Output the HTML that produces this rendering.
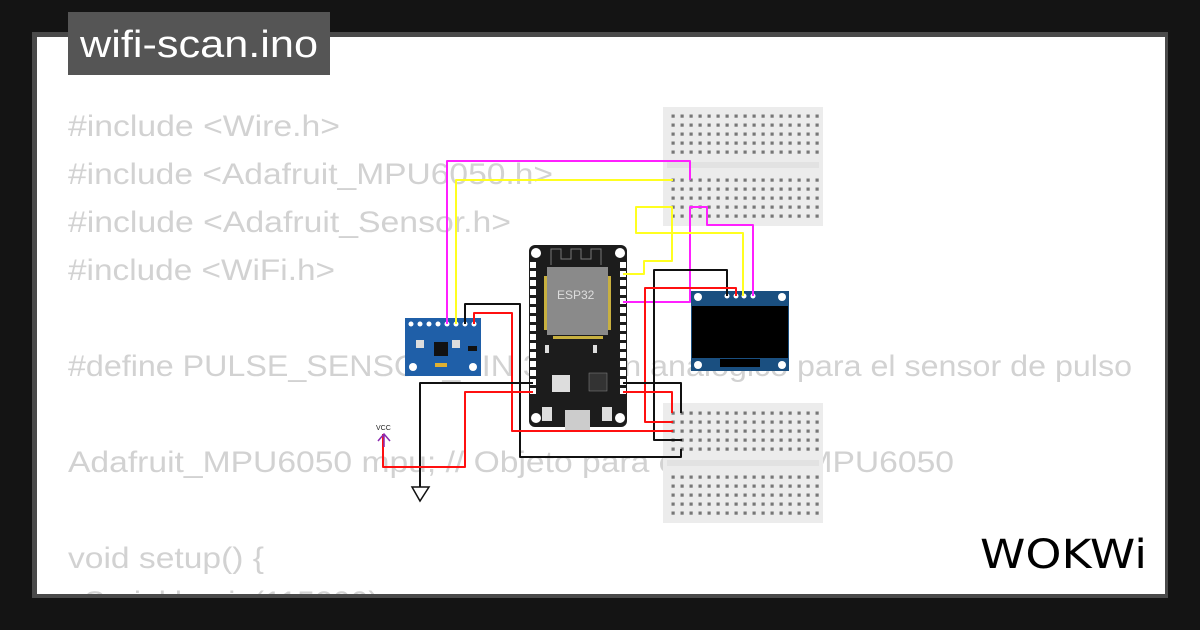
<!DOCTYPE html>
<html><head><meta charset="utf-8"><style>
html,body{margin:0;padding:0;background:#141414;width:1200px;height:630px;overflow:hidden}
svg{display:block}
</style></head><body>
<svg width="1200" height="630" viewBox="0 0 1200 630" xmlns="http://www.w3.org/2000/svg" font-family="Liberation Sans, sans-serif">
<defs>
<pattern id="h1" x="671" y="114" width="9" height="9" patternUnits="userSpaceOnUse"><rect x="0.5" y="0.5" width="3.2" height="3.2" fill="#777"/></pattern>
<pattern id="h2" x="671" y="178" width="9" height="9" patternUnits="userSpaceOnUse"><rect x="0.5" y="0.5" width="3.2" height="3.2" fill="#777"/></pattern>
<pattern id="h3" x="671" y="411" width="9" height="9" patternUnits="userSpaceOnUse"><rect x="0.5" y="0.5" width="3.2" height="3.2" fill="#777"/></pattern>
<pattern id="h4" x="671" y="475" width="9" height="9" patternUnits="userSpaceOnUse"><rect x="0.5" y="0.5" width="3.2" height="3.2" fill="#777"/></pattern>
<clipPath id="pc"><rect x="37" y="37" width="1128" height="557"/></clipPath>
</defs>
<rect x="32" y="32" width="1136" height="566" fill="#4a4a4a"/>
<rect x="37" y="37" width="1128" height="557" fill="#fff"/>
<g clip-path="url(#pc)" fill="#d2d2d2" font-size="30" lengthAdjust="spacingAndGlyphs">
<text x="68" y="136" textLength="272" lengthAdjust="spacingAndGlyphs">#include &lt;Wire.h&gt;</text>
<text x="68" y="184" textLength="485" lengthAdjust="spacingAndGlyphs">#include &lt;Adafruit_MPU6050.h&gt;</text>
<text x="68" y="232" textLength="443" lengthAdjust="spacingAndGlyphs">#include &lt;Adafruit_Sensor.h&gt;</text>
<text x="68" y="280" textLength="267" lengthAdjust="spacingAndGlyphs">#include &lt;WiFi.h&gt;</text>
<text x="68" y="376" textLength="1064" lengthAdjust="spacingAndGlyphs">#define PULSE_SENSOR_PIN 34 // Pin analógico para el sensor de pulso</text>
<text x="68" y="472" textLength="886" lengthAdjust="spacingAndGlyphs">Adafruit_MPU6050 mpu; // Objeto para el sensor MPU6050</text>
<text x="68" y="568" textLength="196" lengthAdjust="spacingAndGlyphs">void setup() {</text>
<text x="84" y="612" textLength="304" lengthAdjust="spacingAndGlyphs">Serial.begin(115200);</text>
</g>
<rect x="68" y="12" width="262" height="63" fill="#555"/>
<text x="80" y="57" fill="#fff" font-size="38" textLength="238" lengthAdjust="spacingAndGlyphs">wifi-scan.ino</text>

<!-- breadboards -->
<g>
<rect x="663" y="107" width="160" height="119" fill="#ececec"/>
<rect x="667" y="162" width="152" height="6" fill="#e2e2e2"/>
<rect x="671" y="114" width="149" height="42" fill="url(#h1)"/>
<rect x="671" y="178" width="149" height="42" fill="url(#h2)"/>
<rect x="663" y="403" width="160" height="120" fill="#ececec"/>
<rect x="667" y="460" width="152" height="6" fill="#e2e2e2"/>
<rect x="671" y="411" width="149" height="42" fill="url(#h3)"/>
<rect x="671" y="475" width="149" height="42" fill="url(#h4)"/>
</g>

<!-- ESP32 -->
<g>
<rect x="529" y="245" width="98" height="182" rx="6" fill="#1c1c1c"/>
<circle cx="536" cy="253" r="5" fill="#fff"/><circle cx="620" cy="253" r="5" fill="#fff"/>
<circle cx="536" cy="418" r="5" fill="#fff"/><circle cx="620" cy="418" r="5" fill="#fff"/>
<path d="M551 265 v-16 h10 v10 h10 v-10 h10 v10 h10 v-10 h10 v16" fill="none" stroke="#777" stroke-width="1"/>
<rect x="547" y="267" width="61" height="68" fill="#8a8a8a"/>
<text x="557" y="299" fill="#ddd" font-size="12">ESP32</text>
<rect x="553" y="336" width="50" height="3" fill="#c8b040"/>
<rect x="544" y="276" width="3" height="54" fill="#c8b040"/><rect x="608" y="276" width="3" height="54" fill="#c8b040"/>
<rect x="552" y="375" width="18" height="17" fill="#ddd"/>
<rect x="589" y="373" width="18" height="18" fill="#333" stroke="#888" stroke-width="0.5"/>
<rect x="545" y="345" width="4" height="8" fill="#ddd"/><rect x="593" y="345" width="4" height="8" fill="#ddd"/>
<rect x="565" y="410" width="25" height="20" fill="#ccc"/>
<rect x="542" y="407" width="10" height="14" fill="#ddd"/><rect x="602" y="407" width="10" height="14" fill="#ddd"/>
<g fill="#fff">
<rect x="530" y="262" width="6" height="6"/><rect x="530" y="271" width="6" height="6"/><rect x="530" y="280" width="6" height="6"/><rect x="530" y="289" width="6" height="6"/><rect x="530" y="298" width="6" height="6"/><rect x="530" y="307" width="6" height="6"/><rect x="530" y="316" width="6" height="6"/><rect x="530" y="325" width="6" height="6"/><rect x="530" y="334" width="6" height="6"/><rect x="530" y="343" width="6" height="6"/><rect x="530" y="352" width="6" height="6"/><rect x="530" y="361" width="6" height="6"/><rect x="530" y="370" width="6" height="6"/><rect x="530" y="379" width="6" height="6"/><rect x="530" y="388" width="6" height="6"/>
<rect x="620" y="262" width="6" height="6"/><rect x="620" y="271" width="6" height="6"/><rect x="620" y="280" width="6" height="6"/><rect x="620" y="289" width="6" height="6"/><rect x="620" y="298" width="6" height="6"/><rect x="620" y="307" width="6" height="6"/><rect x="620" y="316" width="6" height="6"/><rect x="620" y="325" width="6" height="6"/><rect x="620" y="334" width="6" height="6"/><rect x="620" y="343" width="6" height="6"/><rect x="620" y="352" width="6" height="6"/><rect x="620" y="361" width="6" height="6"/><rect x="620" y="370" width="6" height="6"/><rect x="620" y="379" width="6" height="6"/><rect x="620" y="388" width="6" height="6"/>
</g>
</g>

<!-- MPU6050 -->
<g>
<rect x="405" y="318" width="76" height="58" fill="#1f5fa8"/>
<g fill="#fff"><circle cx="411" cy="324" r="2.5"/><circle cx="420" cy="324" r="2.5"/><circle cx="429" cy="324" r="2.5"/><circle cx="438" cy="324" r="2.5"/><circle cx="447" cy="324" r="2.5"/><circle cx="456" cy="324" r="2.5"/><circle cx="465" cy="324" r="2.5"/><circle cx="474" cy="324" r="2.5"/>
<circle cx="413" cy="367" r="4"/><circle cx="473" cy="367" r="4"/></g>
<rect x="434" y="342" width="14" height="14" fill="#111"/>
<rect x="435" y="363" width="12" height="4" fill="#e0b030"/>
<rect x="416" y="340" width="8" height="8" fill="#ddd"/><rect x="452" y="340" width="8" height="8" fill="#ddd"/>
<rect x="468" y="346" width="9" height="5" fill="#111"/>
</g>

<!-- OLED -->
<g>
<rect x="691" y="291" width="98" height="80" fill="#1a4f80"/>
<g fill="#fff"><circle cx="698" cy="297" r="4"/><circle cx="782" cy="297" r="4"/><circle cx="698" cy="365" r="4"/><circle cx="782" cy="365" r="4"/></g>
<rect x="692" y="306" width="96" height="52" fill="#000"/>
<rect x="720" y="359" width="40" height="8" fill="#000"/>
<g fill="#fff"><circle cx="727" cy="296" r="2.5"/><circle cx="736" cy="296" r="2.5"/><circle cx="744" cy="296" r="2.5"/><circle cx="753" cy="296" r="2.5"/></g>
</g>

<!-- wires -->
<g fill="none" stroke-width="2" stroke-linejoin="round">
<path d="M447 324 V161 H690 V180" stroke="#ff20ff"/>
<path d="M456 324 V180 H673" stroke="#ffff20"/>
<path d="M623 302 H690 V207 H707 V225 H753 V296" stroke="#ff20ff"/>
<path d="M623 274 H644 V261 H672 V207 H636 V233 H743 V296" stroke="#ffff20"/>
<path d="M727 296 V270 H654 V440 H682" stroke="#111"/>
<path d="M736 296 V288 H645 V422 H673" stroke="#ff1010"/>
<path d="M465 324 V304 H520 V457 H681 V449" stroke="#111"/>
<path d="M474 324 V313 H512 V431 H673" stroke="#ff1010"/>
<path d="M533 383 H420 V487" stroke="#111"/>
<path d="M533 392 H465 V467 H383 V434" stroke="#ff1010"/>
<path d="M623 383 H681 V413" stroke="#111"/>
<path d="M623 392 H672 V413" stroke="#ff1010"/>
</g>
<path d="M412 487 H429 L420 501 Z" fill="#fff" stroke="#111" stroke-width="1.5"/>
<path d="M378 441 L384 434 L390 441 M384 434 V447" fill="none" stroke="#8a2ab0" stroke-width="1.5"/>
<text x="376" y="430" font-size="7" fill="#222">VCC</text>

<!-- WOKWI -->
<text x="980" y="568" font-size="40" fill="#000" textLength="167" lengthAdjust="spacingAndGlyphs" font-family="DejaVu Sans, sans-serif">WOKWi</text>
</svg>
</body></html>
